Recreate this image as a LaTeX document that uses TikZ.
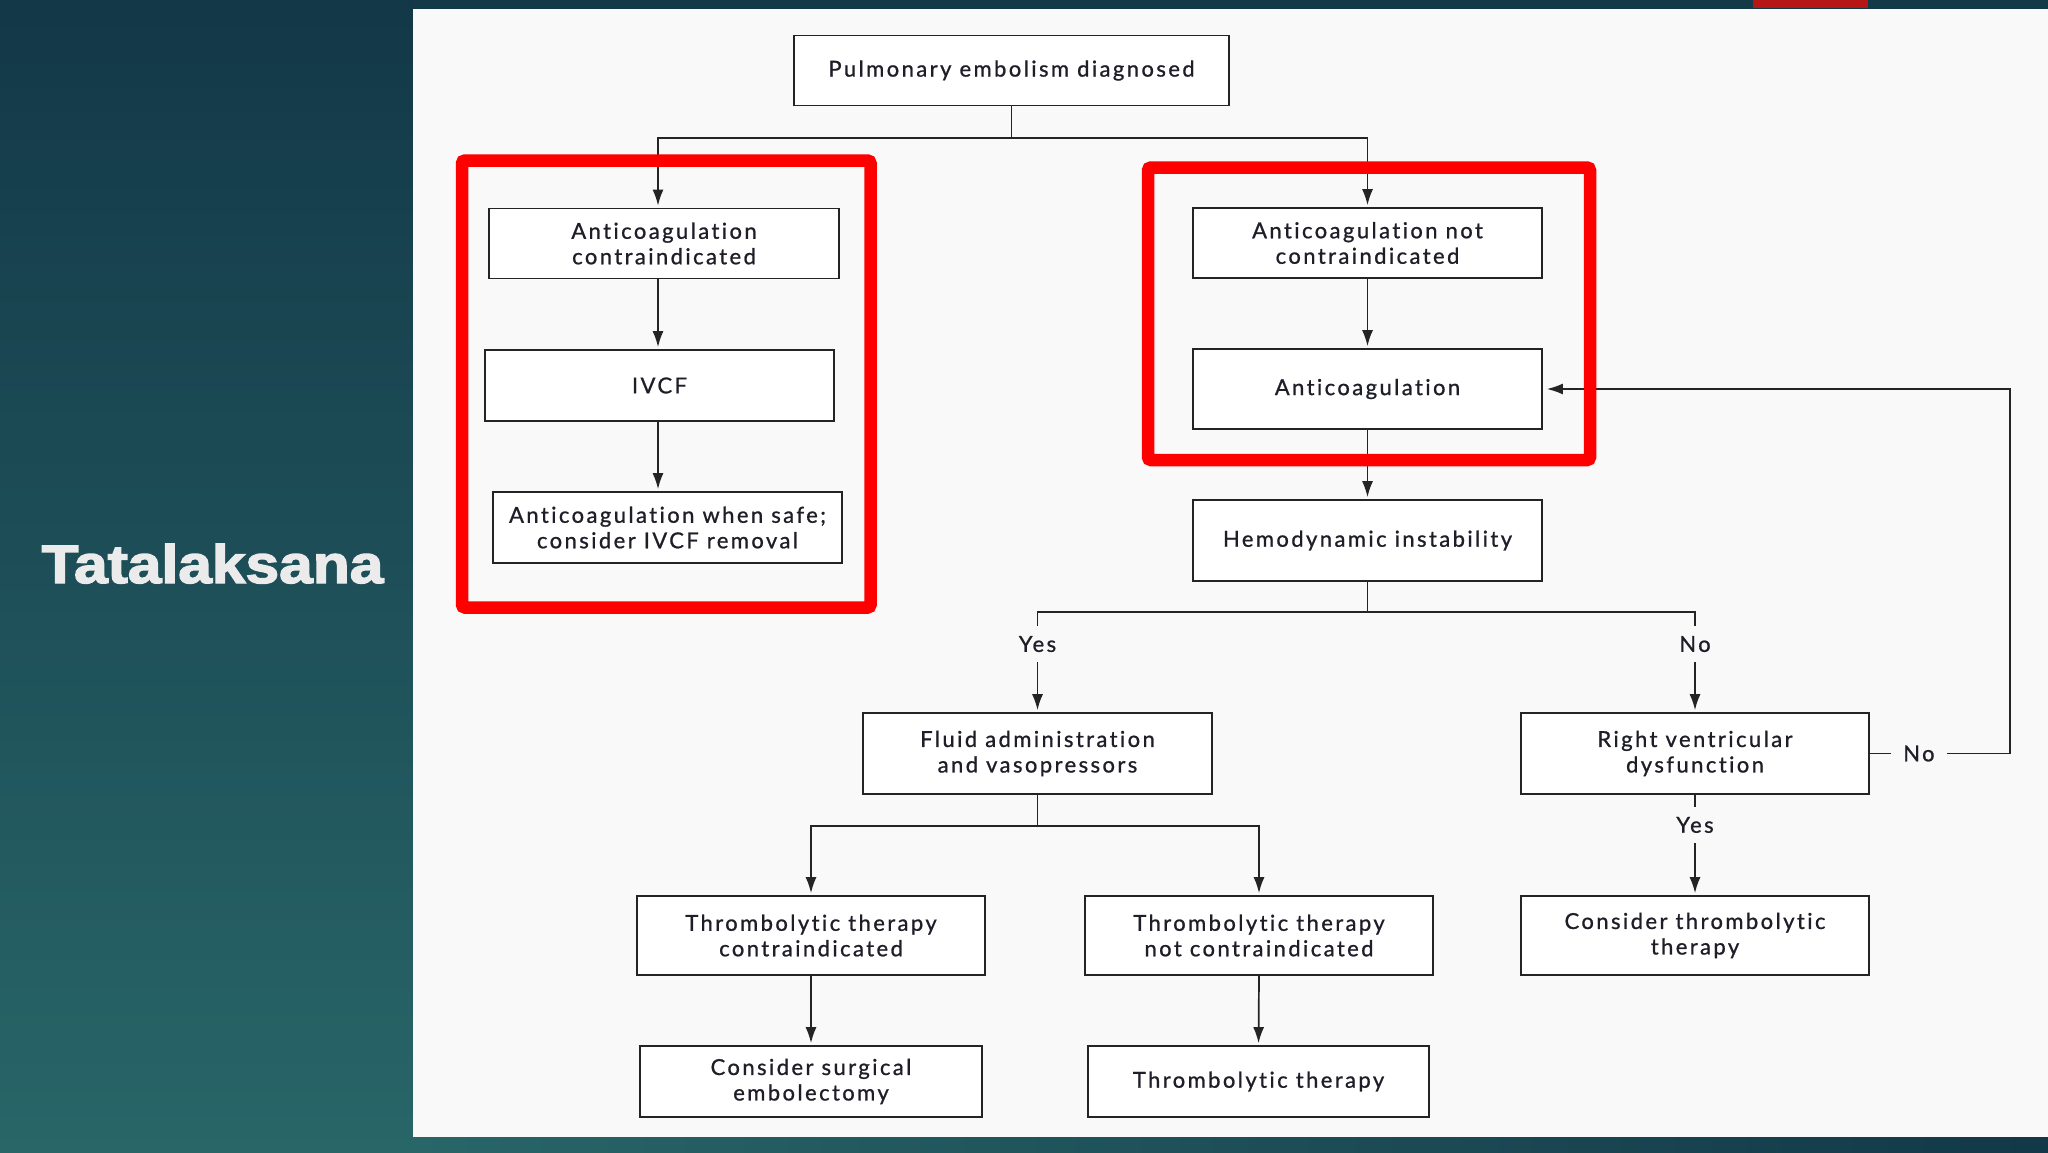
\documentclass[tikz,border=0pt]{standalone}
\usepackage{fontspec}
\setmainfont{Lato}[LetterSpace=11, Ligatures=NoCommon, FakeBold=0.9]
\newfontfamily\titlefont{Liberation Sans}[BoldFeatures={FakeBold=2.5}]
\usetikzlibrary{arrows.meta}
\definecolor{panel}{RGB}{249,249,249}
\definecolor{ink}{RGB}{30,30,40}
\definecolor{edge}{RGB}{36,36,36}
\definecolor{hl}{RGB}{255,0,0}
\definecolor{bgA}{RGB}{19,56,72}
\definecolor{bgB}{RGB}{40,102,104}
\definecolor{topbar}{RGB}{20,58,72}
\definecolor{redbar}{RGB}{182,22,22}
\begin{document}
\begin{tikzpicture}[x=1pt,y=-1pt,
  box/.style={draw=edge, line width=1.7pt, fill=white, text=ink,
    font=\fontsize{22}{25.5}\selectfont, align=center, inner sep=0pt},
  conn/.style={draw=edge, line width=1.7pt},
  arr/.style={conn, -{Latex[length=16pt,width=11pt]}, shorten >=2pt},
  lab/.style={fill=panel, text=ink, font=\fontsize{22}{25}\selectfont,
    inner xsep=12pt, inner ysep=10pt},
  hlbox/.style={draw=hl, line width=12.5pt, rounded corners=3pt}]
\useasboundingbox (0,0) rectangle (2048,1152);
% background
\shade[top color=bgA, bottom color=bgB] (0,0) rectangle (2048,1152);
\shade[left color=bgB, right color=bgA] (413,1137) rectangle (2048,1152);
\fill[topbar] (413,0) rectangle (2048,9);
\fill[redbar] (1753,0) rectangle (1868,8);
\fill[panel] (413,9) rectangle (2048,1137);
% title
\node[font=\titlefont\bfseries\fontsize{54}{60}\selectfont, text=white!92!black,
  anchor=base] (title) at (212.5,583) {\scalebox{1.12}[1]{Tatalaksana}};
% boxes
\node[box, minimum width=435pt, minimum height=70pt] (pe) at (1011.5,70.5) {Pulmonary embolism diagnosed};
\node[box, minimum width=350pt, minimum height=70pt] (aci) at (664,243.5) {Anticoagulation\\contraindicated};
\node[box, minimum width=349pt, minimum height=71pt] (ivcf) at (659.5,385.5) {IVCF};
\node[box, minimum width=349pt, minimum height=71pt] (acsafe) at (667.5,527.5) {Anticoagulation when safe;\\consider IVCF removal};
\node[box, minimum width=349pt, minimum height=70pt] (acn) at (1367.5,243) {Anticoagulation not\\contraindicated};
\node[box, minimum width=349pt, minimum height=80pt] (ac) at (1367.5,389) {Anticoagulation};
\node[box, minimum width=349pt, minimum height=81pt] (hemo) at (1367.5,540.5) {Hemodynamic instability};
\node[box, minimum width=349pt, minimum height=81pt] (fluid) at (1037.5,753.5) {Fluid administration\\and vasopressors};
\node[box, minimum width=348pt, minimum height=81pt] (rv) at (1695,753.5) {Right ventricular\\dysfunction};
\node[box, minimum width=348pt, minimum height=79pt] (ttc) at (811,935.5) {Thrombolytic therapy\\contraindicated};
\node[box, minimum width=348pt, minimum height=79pt] (ttnc) at (1259,935.5) {Thrombolytic therapy\\not contraindicated};
\node[box, minimum width=348pt, minimum height=79pt] (ctt) at (1695,935.5) {Consider thrombolytic\\therapy};
\node[box, minimum width=342pt, minimum height=71pt] (cse) at (811,1081.5) {Consider surgical\\embolectomy};
\node[box, minimum width=341pt, minimum height=71pt] (tt) at (1258.5,1081.5) {Thrombolytic therapy};
% helper coordinates
\coordinate (colL) at (658,0);
\coordinate (b1) at (1011.5,138);
\coordinate (b2) at (1367.5,612);
\coordinate (b3) at (1037.5,826);
\coordinate (rc) at (2010,753.5);
% connectors
\draw[conn] (pe.south) -- (b1);
\draw[arr] (b1) -| (aci.north -| colL);
\draw[arr] (b1) -| (acn.north);
\draw[arr] (aci.south -| colL) -- (ivcf.north -| colL);
\draw[arr] (ivcf.south -| colL) -- (acsafe.north -| colL);
\draw[arr] (acn.south) -- (ac.north);
\draw[arr] (ac.south) -- (hemo.north);
\draw[conn] (hemo.south) -- (b2);
\draw[arr] (b2) -| node[pos=0.66, lab] {Yes} (fluid.north);
\draw[arr] (b2) -| node[pos=0.66, lab] {No} (rv.north);
\draw[conn] (fluid.south) -- (b3);
\draw[arr] (b3) -| (ttc.north);
\draw[arr] (b3) -| (ttnc.north);
\draw[arr] (ttc.south) -- (cse.north);
\draw[arr] (ttnc.south) -- (tt.north);
\draw[arr] (rv.south) -- node[pos=0.30, lab] {Yes} (ctt.north);
\draw[arr, shorten >=4pt] (rv.east) -- node[pos=0.35, lab] {No} (rc) |- (ac.east);
% highlight frames
\draw[hlbox] (462,160.5) rectangle (870.5,607.5);
\draw[hlbox] (1148,167.5) rectangle (1590,460);
\end{tikzpicture}
\end{document}
